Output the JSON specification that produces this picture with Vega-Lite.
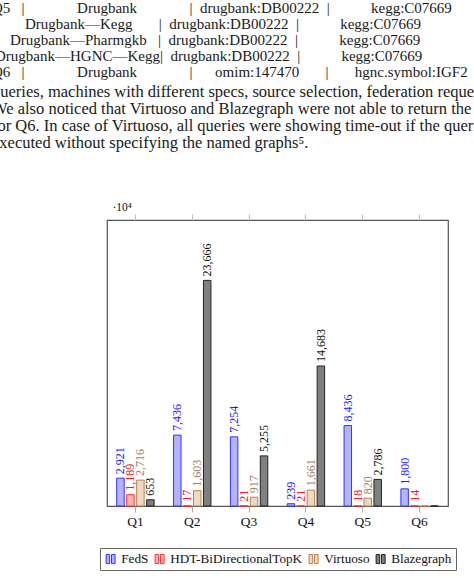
{
  "$schema": "https://vega.github.io/schema/vega-lite/v6.json",
  "width": 341,
  "height": 286,
  "autosize": {"type": "none"},
  "padding": {"left": 107, "top": 220, "right": 26, "bottom": 72},
  "background": "white",
  "config": {
    "font": "Liberation Serif",
    "view": {"stroke": "#555", "strokeWidth": 1.2},
    "legend": {
      "orient": "none",
      "legendX": -7,
      "legendY": 328,
      "direction": "horizontal",
      "strokeColor": "#666",
      "padding": 4,
      "symbolSize": 81,
      "symbolStrokeWidth": 1,
      "labelFont": "Liberation Serif",
      "labelFontSize": 13.2,
      "labelColor": "#111",
      "columnPadding": 4,
      "labelOffset": 4
    }
  },
  "title": {
    "text": [
      "Q5\u00a0\u00a0\u00a0|\u00a0\u00a0\u00a0\u00a0\u00a0\u00a0\u00a0\u00a0\u00a0\u00a0\u00a0\u00a0\u00a0\u00a0Drugbank\u00a0\u00a0\u00a0\u00a0\u00a0\u00a0\u00a0\u00a0\u00a0\u00a0\u00a0\u00a0\u00a0\u00a0|\u00a0\u00a0drugbank:DB00222\u00a0\u00a0|\u00a0\u00a0\u00a0\u00a0\u00a0\u00a0\u00a0\u00a0\u00a0\u00a0\u00a0kegg:C07669",
      "\u00a0\u00a0\u00a0\u00a0\u00a0\u00a0\u00a0\u00a0|\u00a0\u00a0\u00a0\u00a0\u00a0\u00a0\u00a0\u00a0Drugbank—Kegg\u00a0\u00a0\u00a0\u00a0\u00a0\u00a0\u00a0|\u00a0\u00a0drugbank:DB00222\u00a0\u00a0|\u00a0\u00a0\u00a0\u00a0\u00a0\u00a0\u00a0\u00a0\u00a0\u00a0\u00a0kegg:C07669",
      "\u00a0\u00a0\u00a0\u00a0\u00a0\u00a0\u00a0\u00a0|\u00a0\u00a0\u00a0\u00a0Drugbank—Pharmgkb\u00a0\u00a0\u00a0|\u00a0\u00a0drugbank:DB00222\u00a0\u00a0|\u00a0\u00a0\u00a0\u00a0\u00a0\u00a0\u00a0\u00a0\u00a0\u00a0\u00a0kegg:C07669",
      "\u00a0\u00a0\u00a0\u00a0\u00a0\u00a0\u00a0\u00a0|Drugbank—HGNC—Kegg|\u00a0\u00a0drugbank:DB00222\u00a0\u00a0|\u00a0\u00a0\u00a0\u00a0\u00a0\u00a0\u00a0\u00a0\u00a0\u00a0\u00a0kegg:C07669",
      "Q6\u00a0\u00a0\u00a0|\u00a0\u00a0\u00a0\u00a0\u00a0\u00a0\u00a0\u00a0\u00a0\u00a0\u00a0\u00a0\u00a0\u00a0Drugbank\u00a0\u00a0\u00a0\u00a0\u00a0\u00a0\u00a0\u00a0\u00a0\u00a0\u00a0\u00a0\u00a0\u00a0|\u00a0\u00a0\u00a0\u00a0\u00a0\u00a0omim:147470\u00a0\u00a0\u00a0\u00a0\u00a0\u00a0\u00a0|\u00a0\u00a0\u00a0\u00a0\u00a0\u00a0\u00a0hgnc.symbol:IGF2"
    ],
    "subtitle": [
      "\u00a0\u00a0queries, machines with different specs, source selection, federation requests",
      "\u00a0\u00a0We also noticed that Virtuoso and Blazegraph were not able to return the",
      "\u00a0\u00a0for Q6. In case of Virtuoso, all queries were showing time-out if the queries were",
      "\u00a0\u00a0executed without specifying the named graphs⁵."
    ],
    "anchor": "start",
    "frame": "group",
    "dx": -115,
    "offset": 50,
    "font": "Liberation Serif",
    "fontSize": 15,
    "fontWeight": "normal",
    "color": "#1a1a1a",
    "lineHeight": 16,
    "subtitleFont": "Liberation Serif",
    "subtitleFontSize": 16.5,
    "subtitleColor": "#1a1a1a",
    "subtitleLineHeight": 17,
    "subtitlePadding": 4
  },
  "data": {
    "values": [
      {"q": "Q1", "engine": "FedS", "time": 2921},
      {"q": "Q1", "engine": "HDT-BiDirectionalTopK", "time": 1189},
      {"q": "Q1", "engine": "Virtuoso", "time": 2716},
      {"q": "Q1", "engine": "Blazegraph", "time": 653},
      {"q": "Q2", "engine": "FedS", "time": 7436},
      {"q": "Q2", "engine": "HDT-BiDirectionalTopK", "time": 17},
      {"q": "Q2", "engine": "Virtuoso", "time": 1603},
      {"q": "Q2", "engine": "Blazegraph", "time": 23666},
      {"q": "Q3", "engine": "FedS", "time": 7254},
      {"q": "Q3", "engine": "HDT-BiDirectionalTopK", "time": 21},
      {"q": "Q3", "engine": "Virtuoso", "time": 917},
      {"q": "Q3", "engine": "Blazegraph", "time": 5255},
      {"q": "Q4", "engine": "FedS", "time": 239},
      {"q": "Q4", "engine": "HDT-BiDirectionalTopK", "time": 21},
      {"q": "Q4", "engine": "Virtuoso", "time": 1661},
      {"q": "Q4", "engine": "Blazegraph", "time": 14683},
      {"q": "Q5", "engine": "FedS", "time": 8436},
      {"q": "Q5", "engine": "HDT-BiDirectionalTopK", "time": 18},
      {"q": "Q5", "engine": "Virtuoso", "time": 820},
      {"q": "Q5", "engine": "Blazegraph", "time": 2786},
      {"q": "Q6", "engine": "FedS", "time": 1800},
      {"q": "Q6", "engine": "HDT-BiDirectionalTopK", "time": 14},
      {"q": "Q6", "engine": "Virtuoso", "time": 0},
      {"q": "Q6", "engine": "Blazegraph", "time": 0}
    ]
  },
  "layer": [
    {
      "mark": {"type": "bar", "strokeWidth": 1},
      "encoding": {
        "x": {
          "field": "q", "type": "nominal",
          "scale": {"paddingInner": 0, "paddingOuter": 0},
          "axis": {"orient": "bottom", "title": null, "labelAngle": 0, "labelFontSize": 13.5, "labelPadding": 2, "tickSize": 6, "tickColor": "#aaa", "domain": false, "labelColor": "#111"}
        },
        "xOffset": {
          "field": "engine", "type": "nominal",
          "scale": {"domain": ["FedS", "HDT-BiDirectionalTopK", "Virtuoso", "Blazegraph"], "paddingInner": 0.25, "paddingOuter": 0.975}
        },
        "y": {
          "field": "time", "type": "quantitative",
          "scale": {"domain": [0, 30000]},
          "axis": {"title": "Time (miliseconds)", "values": [0, 5000, 10000, 15000, 20000, 25000, 30000], "labelExpr": "datum.value / 10000 + ''", "grid": false, "domain": false, "tickSize": 0, "labelPadding": 4, "labelFontSize": 13, "labelColor": "#111", "titleFontSize": 12, "titleFontWeight": "normal", "titleColor": "#111", "titlePadding": 10}
        },
        "fill": {
          "field": "engine", "type": "nominal",
          "scale": {"domain": ["FedS", "HDT-BiDirectionalTopK", "Virtuoso", "Blazegraph"], "range": ["#b3b3ff", "#ffb3b3", "#ecd9c6", "#808080"]},
          "legend": {"title": null, "symbolType": "M-1,-1H-0.2V1H-1Z M0.2,-1H1V1H0.2Z"}
        },
        "stroke": {
          "field": "engine", "type": "nominal",
          "scale": {"domain": ["FedS", "HDT-BiDirectionalTopK", "Virtuoso", "Blazegraph"], "range": ["#3333ff", "#ff3333", "#bf8040", "#222222"]},
          "legend": {"title": null, "symbolType": "M-1,-1H-0.2V1H-1Z M0.2,-1H1V1H0.2Z"}
        }
      }
    },
    {
      "transform": [{"filter": "datum.time > 0"}],
      "mark": {"type": "text", "angle": 270, "align": "left", "baseline": "middle", "dx": 4, "fontSize": 12, "font": "Liberation Serif"},
      "encoding": {
        "x": {
          "field": "q", "type": "nominal",
          "axis": {"orient": "top", "labels": false, "ticks": true, "tickSize": 6, "tickColor": "#bbb", "domain": false, "title": "·10⁴", "titleFontSize": 11.5, "titleFontWeight": "normal", "titleColor": "#111", "titleAnchor": "start", "titleAlign": "left", "titleX": 5, "titleY": -13, "titleBaseline": "middle"}
        },
        "xOffset": {"field": "engine", "type": "nominal"},
        "y": {"field": "time", "type": "quantitative", "axis": null},
        "text": {"field": "time", "type": "quantitative", "format": ","},
        "color": {
          "field": "engine", "type": "nominal",
          "scale": {"domain": ["FedS", "HDT-BiDirectionalTopK", "Virtuoso", "Blazegraph"], "range": ["#1a1aff", "#ee2222", "#a8805f", "#111111"]},
          "legend": null
        }
      }
    }
  ]
}
